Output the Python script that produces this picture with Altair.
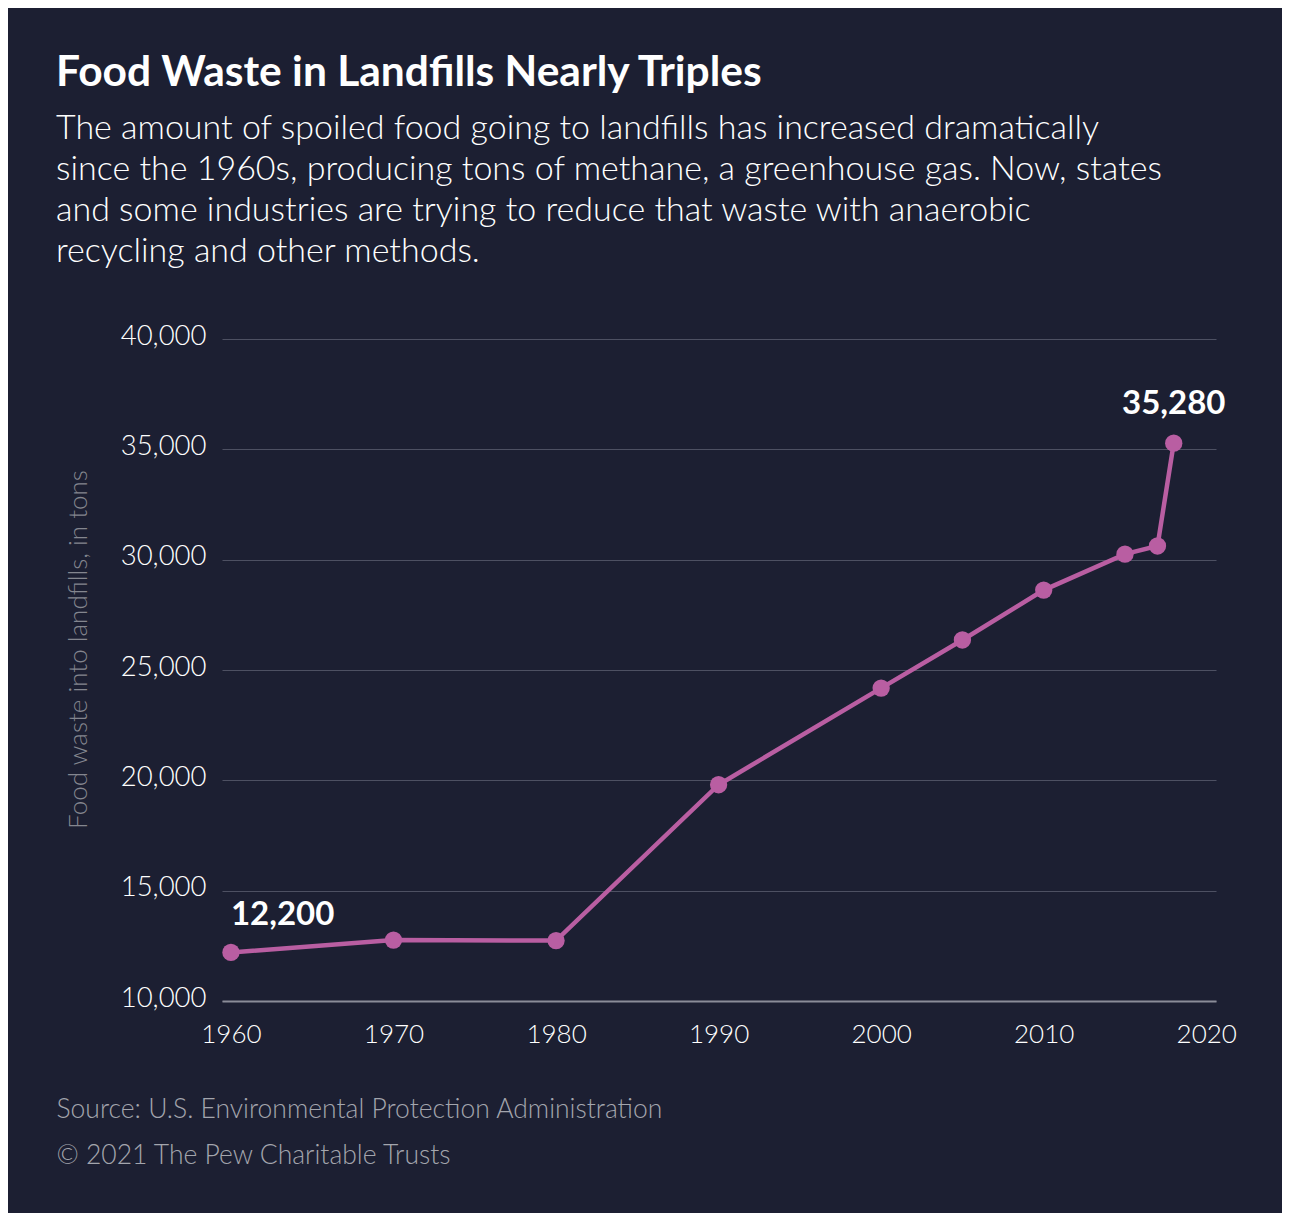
import altair as alt
import pandas as pd

years = [1960, 1970, 1980, 1990, 2000, 2005, 2010, 2015, 2017, 2018]
tons = [12200, 12760, 12740, 19800, 24180, 26360, 28620, 30250, 30620, 35280]
labels = ["12,200", "", "", "", "", "", "", "", "", "35,280"]

x_ticks = [1960, 1970, 1980, 1990, 2000, 2010, 2020]
y_ticks = [10000, 15000, 20000, 25000, 30000, 35000, 40000]

title_text = "Food Waste in Landfills Nearly Triples"
subtitle_lines = [
    "The amount of spoiled food going to landfills has increased dramatically",
    "since the 1960s, producing tons of methane, a greenhouse gas. Now, states",
    "and some industries are trying to reduce that waste with anaerobic",
    "recycling and other methods.",
]
source_lines = [
    "Source: U.S. Environmental Protection Administration",
    "\u00a9 2021 The Pew Charitable Trusts",
]
y_title = "Food waste into landfills, in tons"

df = pd.DataFrame({"year": years, "tons": tons, "label": labels})

BG = "#1c1f32"
LINE = "#b95ea2"
FONT = "Lato"

x = alt.X(
    "year:Q",
    scale=alt.Scale(domain=[1959.45, 2020.6], nice=False, zero=False),
    axis=alt.Axis(
        values=x_ticks,
        format="d",
        grid=False,
        ticks=False,
        domain=True,
        domainColor="#8a8c98",
        domainWidth=2,
        labelColor="#ffffff",
        labelFont=FONT,
        labelFontSize=26,
        labelFontWeight=300,
        labelPadding=20,
        labelFlush=False,
        title=source_lines,
        titleFont=FONT,
        titleFontSize=26.5,
        titleFontWeight=300,
        titleColor="#a3a5ad",
        titleAnchor="start",
        titleAlign="left",
        titleBaseline="alphabetic",
        titleLineHeight=46,
        titleX=-166,
        titleY=116,
    ),
)
y = alt.Y(
    "tons:Q",
    scale=alt.Scale(domain=[10000, 40000], nice=False, zero=False),
    axis=alt.Axis(
        values=y_ticks,
        format=",d",
        grid=True,
        gridColor="#4d5062",
        gridWidth=1,
        ticks=False,
        domain=False,
        labelColor="#ffffff",
        labelFont=FONT,
        labelFontSize=27.5,
        labelFontWeight=300,
        labelPadding=16,
        labelOffset=-3,
        title=y_title,
        titleFont=FONT,
        titleFontSize=26,
        titleFontWeight=300,
        titleColor="#84868f",
        titleAngle=270,
        titleAlign="center",
        titleBaseline="middle",
        titleX=-144,
        titleY=310,
    ),
)

base = alt.Chart(df)

line = base.mark_line(color=LINE, strokeWidth=4.5).encode(x=x, y=y)
pts = base.mark_circle(color=LINE, size=300, opacity=1).encode(x=x, y=y)

first_lbl = base.transform_filter(alt.datum.year == 1960).mark_text(
    align="left", baseline="alphabetic", dy=-27, font=FONT, fontSize=33,
    fontWeight="bold", color="#ffffff",
).encode(x=x, y=y, text="label:N")
last_lbl = base.transform_filter(alt.datum.year == 2018).mark_text(
    align="center", baseline="alphabetic", dy=-29, font=FONT, fontSize=33,
    fontWeight="bold", color="#ffffff",
).encode(x=x, y=y, text="label:N")

chart = (
    alt.layer(line, pts, first_lbl, last_lbl)
    .properties(
        width=994,
        height=662,
        background=BG,
        padding={"left": 214, "top": 331, "right": 66, "bottom": 212},
        autosize=alt.AutoSizeParams(type="none"),
        title=alt.TitleParams(
            text=title_text,
            subtitle=subtitle_lines,
            anchor="start",
            frame="group",
            dx=-166,
            offset=53,
            font=FONT,
            fontSize=42.5,
            fontWeight="bold",
            color="#ffffff",
            subtitleFont=FONT,
            subtitleFontSize=34,
            subtitleFontWeight=300,
            subtitleColor="#ffffff",
            subtitleLineHeight=41,
            subtitlePadding=18,
        ),
    )
    .configure_view(stroke=None)
)

chart.save("out.html", embed_options={"renderer": "svg", "actions": False})
